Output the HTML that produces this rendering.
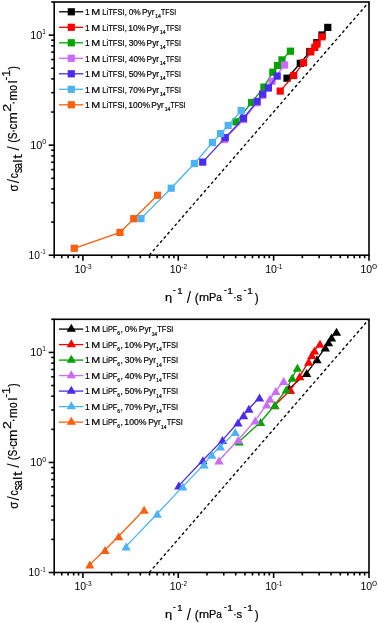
<!DOCTYPE html><html><head><meta charset="utf-8"><style>html,body{margin:0;padding:0;background:#fff;}svg{display:block;}</style></head><body><svg width="378" height="623" viewBox="0 0 378 623" font-family="'Liberation Sans', sans-serif">
<rect width="378" height="623" fill="#fff"/>
<rect x="54.20" y="2.00" width="314.80" height="253.20" fill="none" stroke="#000" stroke-width="1.6"/>
<line x1="54.20" y1="255.20" x2="54.20" y2="258.20" stroke="#000" stroke-width="1.6"/>
<line x1="61.75" y1="255.20" x2="61.75" y2="258.20" stroke="#000" stroke-width="1.6"/>
<line x1="68.14" y1="255.20" x2="68.14" y2="258.20" stroke="#000" stroke-width="1.6"/>
<line x1="73.67" y1="255.20" x2="73.67" y2="258.20" stroke="#000" stroke-width="1.6"/>
<line x1="78.54" y1="255.20" x2="78.54" y2="258.20" stroke="#000" stroke-width="1.6"/>
<line x1="82.91" y1="255.20" x2="82.91" y2="260.70" stroke="#000" stroke-width="1.6"/>
<line x1="111.61" y1="255.20" x2="111.61" y2="258.20" stroke="#000" stroke-width="1.6"/>
<line x1="128.41" y1="255.20" x2="128.41" y2="258.20" stroke="#000" stroke-width="1.6"/>
<line x1="140.32" y1="255.20" x2="140.32" y2="258.20" stroke="#000" stroke-width="1.6"/>
<line x1="149.56" y1="255.20" x2="149.56" y2="258.20" stroke="#000" stroke-width="1.6"/>
<line x1="157.12" y1="255.20" x2="157.12" y2="258.20" stroke="#000" stroke-width="1.6"/>
<line x1="163.50" y1="255.20" x2="163.50" y2="258.20" stroke="#000" stroke-width="1.6"/>
<line x1="169.03" y1="255.20" x2="169.03" y2="258.20" stroke="#000" stroke-width="1.6"/>
<line x1="173.91" y1="255.20" x2="173.91" y2="258.20" stroke="#000" stroke-width="1.6"/>
<line x1="178.27" y1="255.20" x2="178.27" y2="260.70" stroke="#000" stroke-width="1.6"/>
<line x1="206.98" y1="255.20" x2="206.98" y2="258.20" stroke="#000" stroke-width="1.6"/>
<line x1="223.77" y1="255.20" x2="223.77" y2="258.20" stroke="#000" stroke-width="1.6"/>
<line x1="235.69" y1="255.20" x2="235.69" y2="258.20" stroke="#000" stroke-width="1.6"/>
<line x1="244.93" y1="255.20" x2="244.93" y2="258.20" stroke="#000" stroke-width="1.6"/>
<line x1="252.48" y1="255.20" x2="252.48" y2="258.20" stroke="#000" stroke-width="1.6"/>
<line x1="258.86" y1="255.20" x2="258.86" y2="258.20" stroke="#000" stroke-width="1.6"/>
<line x1="264.39" y1="255.20" x2="264.39" y2="258.20" stroke="#000" stroke-width="1.6"/>
<line x1="269.27" y1="255.20" x2="269.27" y2="258.20" stroke="#000" stroke-width="1.6"/>
<line x1="273.64" y1="255.20" x2="273.64" y2="260.70" stroke="#000" stroke-width="1.6"/>
<line x1="302.34" y1="255.20" x2="302.34" y2="258.20" stroke="#000" stroke-width="1.6"/>
<line x1="319.14" y1="255.20" x2="319.14" y2="258.20" stroke="#000" stroke-width="1.6"/>
<line x1="331.05" y1="255.20" x2="331.05" y2="258.20" stroke="#000" stroke-width="1.6"/>
<line x1="340.29" y1="255.20" x2="340.29" y2="258.20" stroke="#000" stroke-width="1.6"/>
<line x1="347.84" y1="255.20" x2="347.84" y2="258.20" stroke="#000" stroke-width="1.6"/>
<line x1="354.23" y1="255.20" x2="354.23" y2="258.20" stroke="#000" stroke-width="1.6"/>
<line x1="359.76" y1="255.20" x2="359.76" y2="258.20" stroke="#000" stroke-width="1.6"/>
<line x1="364.64" y1="255.20" x2="364.64" y2="258.20" stroke="#000" stroke-width="1.6"/>
<line x1="369.00" y1="255.20" x2="369.00" y2="260.70" stroke="#000" stroke-width="1.6"/>
<line x1="48.70" y1="255.20" x2="54.20" y2="255.20" stroke="#000" stroke-width="1.6"/>
<line x1="51.20" y1="222.08" x2="54.20" y2="222.08" stroke="#000" stroke-width="1.6"/>
<line x1="51.20" y1="202.70" x2="54.20" y2="202.70" stroke="#000" stroke-width="1.6"/>
<line x1="51.20" y1="188.95" x2="54.20" y2="188.95" stroke="#000" stroke-width="1.6"/>
<line x1="51.20" y1="178.29" x2="54.20" y2="178.29" stroke="#000" stroke-width="1.6"/>
<line x1="51.20" y1="169.57" x2="54.20" y2="169.57" stroke="#000" stroke-width="1.6"/>
<line x1="51.20" y1="162.21" x2="54.20" y2="162.21" stroke="#000" stroke-width="1.6"/>
<line x1="51.20" y1="155.83" x2="54.20" y2="155.83" stroke="#000" stroke-width="1.6"/>
<line x1="51.20" y1="150.20" x2="54.20" y2="150.20" stroke="#000" stroke-width="1.6"/>
<line x1="48.70" y1="145.16" x2="54.20" y2="145.16" stroke="#000" stroke-width="1.6"/>
<line x1="51.20" y1="112.04" x2="54.20" y2="112.04" stroke="#000" stroke-width="1.6"/>
<line x1="51.20" y1="92.66" x2="54.20" y2="92.66" stroke="#000" stroke-width="1.6"/>
<line x1="51.20" y1="78.91" x2="54.20" y2="78.91" stroke="#000" stroke-width="1.6"/>
<line x1="51.20" y1="68.25" x2="54.20" y2="68.25" stroke="#000" stroke-width="1.6"/>
<line x1="51.20" y1="59.54" x2="54.20" y2="59.54" stroke="#000" stroke-width="1.6"/>
<line x1="51.20" y1="52.17" x2="54.20" y2="52.17" stroke="#000" stroke-width="1.6"/>
<line x1="51.20" y1="45.79" x2="54.20" y2="45.79" stroke="#000" stroke-width="1.6"/>
<line x1="51.20" y1="40.16" x2="54.20" y2="40.16" stroke="#000" stroke-width="1.6"/>
<line x1="48.70" y1="35.12" x2="54.20" y2="35.12" stroke="#000" stroke-width="1.6"/>
<line x1="51.20" y1="2.00" x2="54.20" y2="2.00" stroke="#000" stroke-width="1.6"/>
<text x="74.41" y="272.60" font-size="10.8" textLength="11.71" lengthAdjust="spacingAndGlyphs">10</text>
<text x="85.92" y="268.50" font-size="6.6" textLength="5.77" lengthAdjust="spacingAndGlyphs">-3</text>
<text x="169.77" y="272.60" font-size="10.8" textLength="11.71" lengthAdjust="spacingAndGlyphs">10</text>
<text x="181.28" y="268.50" font-size="6.6" textLength="5.82" lengthAdjust="spacingAndGlyphs">-2</text>
<text x="265.13" y="272.60" font-size="10.8" textLength="11.71" lengthAdjust="spacingAndGlyphs">10</text>
<text x="276.65" y="268.50" font-size="6.6" textLength="5.81" lengthAdjust="spacingAndGlyphs">-1</text>
<text x="360.50" y="272.60" font-size="10.8" textLength="11.71" lengthAdjust="spacingAndGlyphs">10</text>
<text x="371.94" y="268.50" font-size="6.6" textLength="5.12" lengthAdjust="spacingAndGlyphs">0</text>
<text x="30.17" y="38.57" font-size="10.8" textLength="12.05" lengthAdjust="spacingAndGlyphs">10</text>
<text x="42.27" y="34.17" font-size="6.6" textLength="3.67" lengthAdjust="spacingAndGlyphs">1</text>
<text x="30.17" y="148.61" font-size="10.8" textLength="12.05" lengthAdjust="spacingAndGlyphs">10</text>
<text x="42.22" y="144.21" font-size="6.6" textLength="3.96" lengthAdjust="spacingAndGlyphs">0</text>
<text x="28.52" y="258.65" font-size="10.8" textLength="11.38" lengthAdjust="spacingAndGlyphs">10</text>
<text x="40.55" y="254.25" font-size="6.6" textLength="4.92" lengthAdjust="spacingAndGlyphs">-1</text>
<line x1="369.00" y1="2.00" x2="149.30" y2="255.20" stroke="#000" stroke-width="1.35" stroke-dasharray="3.0,2.56" stroke-dashoffset="1.26"/>
<text x="164.94" y="301.00" font-size="11.6" textLength="7.09" lengthAdjust="spacingAndGlyphs" stroke="#000" stroke-width="0.22">η</text>
<text x="172.98" y="293.40" font-size="8.2" textLength="2.73" lengthAdjust="spacingAndGlyphs" stroke="#000" stroke-width="0.22">-</text>
<text x="177.38" y="294.20" font-size="8.2" textLength="5.29" lengthAdjust="spacingAndGlyphs" stroke="#000" stroke-width="0.22">1</text>
<text transform="translate(0,302.70) scale(1,1.3)" x="186.71" y="0" font-size="12.3" textLength="4.27" lengthAdjust="spacingAndGlyphs">/</text>
<text x="194.85" y="301.75" font-size="13.3" textLength="4.02" lengthAdjust="spacingAndGlyphs" stroke="#000" stroke-width="0.22">(</text>
<text x="198.99" y="301.00" font-size="11.6" textLength="10.11" lengthAdjust="spacingAndGlyphs" stroke="#000" stroke-width="0.22">m</text>
<text x="208.91" y="301.00" font-size="11.6" textLength="7.27" lengthAdjust="spacingAndGlyphs" stroke="#000" stroke-width="0.22">P</text>
<text x="216.37" y="301.00" font-size="11.6" textLength="5.63" lengthAdjust="spacingAndGlyphs" stroke="#000" stroke-width="0.22">a</text>
<text x="223.98" y="293.40" font-size="8.2" textLength="2.73" lengthAdjust="spacingAndGlyphs" stroke="#000" stroke-width="0.22">-</text>
<text x="227.22" y="294.20" font-size="8.2" textLength="5.68" lengthAdjust="spacingAndGlyphs" stroke="#000" stroke-width="0.22">1</text>
<text x="232.97" y="301.00" font-size="11.6" textLength="3.86" lengthAdjust="spacingAndGlyphs" stroke="#000" stroke-width="0.22">·</text>
<text x="236.49" y="301.00" font-size="11.6" textLength="5.62" lengthAdjust="spacingAndGlyphs" stroke="#000" stroke-width="0.22">s</text>
<text x="243.78" y="293.40" font-size="8.2" textLength="2.73" lengthAdjust="spacingAndGlyphs" stroke="#000" stroke-width="0.22">-</text>
<text x="247.24" y="294.20" font-size="8.2" textLength="5.55" lengthAdjust="spacingAndGlyphs" stroke="#000" stroke-width="0.22">1</text>
<text x="254.73" y="301.75" font-size="13.3" textLength="3.89" lengthAdjust="spacingAndGlyphs" stroke="#000" stroke-width="0.22">)</text>
<g transform="translate(17.40,200.00) rotate(-90)">
<text x="8.62" y="0.80" font-size="12.6" textLength="7.05" lengthAdjust="spacingAndGlyphs" stroke="#000" stroke-width="0.22">σ</text>
<text transform="translate(0,1.90) scale(1,1.25)" x="16.86" y="0" font-size="12.6" textLength="4.38" lengthAdjust="spacingAndGlyphs">/</text>
<text x="21.77" y="0.80" font-size="12.6" textLength="5.10" lengthAdjust="spacingAndGlyphs" stroke="#000" stroke-width="0.22">c</text>
<text x="27.07" y="4.40" font-size="12.6" textLength="5.04" lengthAdjust="spacingAndGlyphs" stroke="#000" stroke-width="0.22">s</text>
<text x="31.23" y="4.40" font-size="12.6" textLength="5.61" lengthAdjust="spacingAndGlyphs" stroke="#000" stroke-width="0.22">a</text>
<text x="37.45" y="4.40" font-size="12.6" textLength="2.80" lengthAdjust="spacingAndGlyphs" stroke="#000" stroke-width="0.22">l</text>
<text x="41.20" y="4.40" font-size="12.6" textLength="4.38" lengthAdjust="spacingAndGlyphs" stroke="#000" stroke-width="0.22">t</text>
<text transform="translate(0,1.50) scale(1,1.25)" x="49.51" y="0" font-size="12.6" textLength="4.38" lengthAdjust="spacingAndGlyphs">/</text>
<text x="57.17" y="-0.30" font-size="12.8" textLength="3.89" lengthAdjust="spacingAndGlyphs" stroke="#000" stroke-width="0.22">(</text>
<text x="60.84" y="0.00" font-size="12.6" textLength="6.72" lengthAdjust="spacingAndGlyphs" stroke="#000" stroke-width="0.22">S</text>
<text x="67.11" y="0.00" font-size="12.6" textLength="4.20" lengthAdjust="spacingAndGlyphs" stroke="#000" stroke-width="0.22">·</text>
<text x="70.50" y="0.00" font-size="12.6" textLength="5.91" lengthAdjust="spacingAndGlyphs" stroke="#000" stroke-width="0.22">c</text>
<text x="76.40" y="0.00" font-size="12.6" textLength="11.29" lengthAdjust="spacingAndGlyphs" stroke="#000" stroke-width="0.22">m</text>
<text x="88.28" y="-6.90" font-size="11.5" textLength="7.94" lengthAdjust="spacingAndGlyphs" stroke="#000" stroke-width="0.22">2</text>
<text x="94.91" y="0.00" font-size="12.6" textLength="4.20" lengthAdjust="spacingAndGlyphs" stroke="#000" stroke-width="0.22">·</text>
<text x="99.42" y="0.00" font-size="12.6" textLength="9.75" lengthAdjust="spacingAndGlyphs" stroke="#000" stroke-width="0.22">m</text>
<text x="109.27" y="0.00" font-size="12.6" textLength="5.65" lengthAdjust="spacingAndGlyphs" stroke="#000" stroke-width="0.22">o</text>
<text x="116.70" y="0.00" font-size="12.6" textLength="2.80" lengthAdjust="spacingAndGlyphs" stroke="#000" stroke-width="0.22">l</text>
<text x="119.59" y="-8.80" font-size="11.5" textLength="3.83" lengthAdjust="spacingAndGlyphs" stroke="#000" stroke-width="0.22">-</text>
<text x="123.35" y="-7.80" font-size="11.5" textLength="6.97" lengthAdjust="spacingAndGlyphs" stroke="#000" stroke-width="0.22">1</text>
<text x="130.58" y="-0.30" font-size="12.8" textLength="3.41" lengthAdjust="spacingAndGlyphs" stroke="#000" stroke-width="0.22">)</text>
</g>
<polyline points="287.00,78.20 300.30,63.30 309.80,51.50 316.80,42.70 322.00,35.00 327.80,27.40" fill="none" stroke="#000000" stroke-width="1.3"/>
<rect x="283.40" y="74.60" width="7.2" height="7.2" fill="#000000"/>
<rect x="296.70" y="59.70" width="7.2" height="7.2" fill="#000000"/>
<rect x="306.20" y="47.90" width="7.2" height="7.2" fill="#000000"/>
<rect x="313.20" y="39.10" width="7.2" height="7.2" fill="#000000"/>
<rect x="318.40" y="31.40" width="7.2" height="7.2" fill="#000000"/>
<rect x="324.20" y="23.80" width="7.2" height="7.2" fill="#000000"/>
<polyline points="280.20,91.10 293.70,75.50 303.60,62.80 310.80,51.80 314.80,47.40 316.80,44.10 322.00,36.80" fill="none" stroke="#FF0000" stroke-width="1.3"/>
<rect x="276.60" y="87.50" width="7.2" height="7.2" fill="#FF0000"/>
<rect x="290.10" y="71.90" width="7.2" height="7.2" fill="#FF0000"/>
<rect x="300.00" y="59.20" width="7.2" height="7.2" fill="#FF0000"/>
<rect x="307.20" y="48.20" width="7.2" height="7.2" fill="#FF0000"/>
<rect x="311.20" y="43.80" width="7.2" height="7.2" fill="#FF0000"/>
<rect x="313.20" y="40.50" width="7.2" height="7.2" fill="#FF0000"/>
<rect x="318.40" y="33.20" width="7.2" height="7.2" fill="#FF0000"/>
<polyline points="236.00,121.80 251.60,102.50 263.90,87.10 272.80,72.20 277.50,65.50 282.00,59.90 290.40,51.20" fill="none" stroke="#00A300" stroke-width="1.3"/>
<rect x="232.40" y="118.20" width="7.2" height="7.2" fill="#00A300"/>
<rect x="248.00" y="98.90" width="7.2" height="7.2" fill="#00A300"/>
<rect x="260.30" y="83.50" width="7.2" height="7.2" fill="#00A300"/>
<rect x="269.20" y="68.60" width="7.2" height="7.2" fill="#00A300"/>
<rect x="273.90" y="61.90" width="7.2" height="7.2" fill="#00A300"/>
<rect x="278.40" y="56.30" width="7.2" height="7.2" fill="#00A300"/>
<rect x="286.80" y="47.60" width="7.2" height="7.2" fill="#00A300"/>
<polyline points="224.50,139.50 243.50,119.50 257.00,102.70 262.80,95.20 272.10,81.20 284.60,65.00" fill="none" stroke="#CC6BFA" stroke-width="1.3"/>
<rect x="220.90" y="135.90" width="7.2" height="7.2" fill="#CC6BFA"/>
<rect x="239.90" y="115.90" width="7.2" height="7.2" fill="#CC6BFA"/>
<rect x="253.40" y="99.10" width="7.2" height="7.2" fill="#CC6BFA"/>
<rect x="259.20" y="91.60" width="7.2" height="7.2" fill="#CC6BFA"/>
<rect x="268.50" y="77.60" width="7.2" height="7.2" fill="#CC6BFA"/>
<rect x="281.00" y="61.40" width="7.2" height="7.2" fill="#CC6BFA"/>
<polyline points="202.70,162.10 225.30,137.60 243.50,118.20 257.10,101.40 262.60,94.10 268.40,88.00 277.20,76.10" fill="none" stroke="#4B2BF0" stroke-width="1.3"/>
<rect x="199.10" y="158.50" width="7.2" height="7.2" fill="#4B2BF0"/>
<rect x="221.70" y="134.00" width="7.2" height="7.2" fill="#4B2BF0"/>
<rect x="239.90" y="114.60" width="7.2" height="7.2" fill="#4B2BF0"/>
<rect x="253.50" y="97.80" width="7.2" height="7.2" fill="#4B2BF0"/>
<rect x="259.00" y="90.50" width="7.2" height="7.2" fill="#4B2BF0"/>
<rect x="264.80" y="84.40" width="7.2" height="7.2" fill="#4B2BF0"/>
<rect x="273.60" y="72.50" width="7.2" height="7.2" fill="#4B2BF0"/>
<polyline points="141.00,218.60 171.20,188.20 194.40,163.50 212.40,142.60 220.60,133.60 228.20,125.40 241.20,110.60" fill="none" stroke="#4DB3F5" stroke-width="1.3"/>
<rect x="137.40" y="215.00" width="7.2" height="7.2" fill="#4DB3F5"/>
<rect x="167.60" y="184.60" width="7.2" height="7.2" fill="#4DB3F5"/>
<rect x="190.80" y="159.90" width="7.2" height="7.2" fill="#4DB3F5"/>
<rect x="208.80" y="139.00" width="7.2" height="7.2" fill="#4DB3F5"/>
<rect x="217.00" y="130.00" width="7.2" height="7.2" fill="#4DB3F5"/>
<rect x="224.60" y="121.80" width="7.2" height="7.2" fill="#4DB3F5"/>
<rect x="237.60" y="107.00" width="7.2" height="7.2" fill="#4DB3F5"/>
<polyline points="74.30,248.30 120.00,232.40 133.80,218.70 157.50,195.30" fill="none" stroke="#FF5E0E" stroke-width="1.3"/>
<rect x="70.70" y="244.70" width="7.2" height="7.2" fill="#FF5E0E"/>
<rect x="116.40" y="228.80" width="7.2" height="7.2" fill="#FF5E0E"/>
<rect x="130.20" y="215.10" width="7.2" height="7.2" fill="#FF5E0E"/>
<rect x="153.90" y="191.70" width="7.2" height="7.2" fill="#FF5E0E"/>
<line x1="59" y1="11.80" x2="83.3" y2="11.80" stroke="#000000" stroke-width="1.3"/>
<rect x="67.70" y="8.20" width="7.2" height="7.2" fill="#000000"/>
<text x="84.96" y="15.00" font-size="8.6" textLength="4.64" lengthAdjust="spacingAndGlyphs" stroke="#000" stroke-width="0.18">1</text>
<text x="91.32" y="15.00" font-size="8.6" textLength="8.97" lengthAdjust="spacingAndGlyphs" stroke="#000" stroke-width="0.18">M</text>
<text x="102.28" y="15.00" font-size="8.6" textLength="24.51" lengthAdjust="spacingAndGlyphs" stroke="#000" stroke-width="0.18">LiTFSI,</text>
<text x="128.68" y="15.00" font-size="8.6" textLength="12.02" lengthAdjust="spacingAndGlyphs" stroke="#000" stroke-width="0.18">0%</text>
<text x="141.92" y="15.00" font-size="8.6" textLength="12.52" lengthAdjust="spacingAndGlyphs" stroke="#000" stroke-width="0.18">Pyr</text>
<text x="155.31" y="18.30" font-size="5.0" textLength="5.63" lengthAdjust="spacingAndGlyphs" stroke="#000" stroke-width="0.18">14</text>
<text x="161.04" y="15.00" font-size="8.6" textLength="15.10" lengthAdjust="spacingAndGlyphs" stroke="#000" stroke-width="0.18">TFSI</text>
<line x1="59" y1="27.30" x2="83.3" y2="27.30" stroke="#FF0000" stroke-width="1.3"/>
<rect x="67.70" y="23.70" width="7.2" height="7.2" fill="#FF0000"/>
<text x="84.96" y="30.50" font-size="8.6" textLength="4.64" lengthAdjust="spacingAndGlyphs" stroke="#000" stroke-width="0.18">1</text>
<text x="91.32" y="30.50" font-size="8.6" textLength="8.97" lengthAdjust="spacingAndGlyphs" stroke="#000" stroke-width="0.18">M</text>
<text x="102.28" y="30.50" font-size="8.6" textLength="24.51" lengthAdjust="spacingAndGlyphs" stroke="#000" stroke-width="0.18">LiTFSI,</text>
<text x="128.35" y="30.50" font-size="8.6" textLength="17.05" lengthAdjust="spacingAndGlyphs" stroke="#000" stroke-width="0.18">10%</text>
<text x="146.62" y="30.50" font-size="8.6" textLength="12.52" lengthAdjust="spacingAndGlyphs" stroke="#000" stroke-width="0.18">Pyr</text>
<text x="160.01" y="33.80" font-size="5.0" textLength="5.63" lengthAdjust="spacingAndGlyphs" stroke="#000" stroke-width="0.18">14</text>
<text x="165.74" y="30.50" font-size="8.6" textLength="15.10" lengthAdjust="spacingAndGlyphs" stroke="#000" stroke-width="0.18">TFSI</text>
<line x1="59" y1="42.80" x2="83.3" y2="42.80" stroke="#00A300" stroke-width="1.3"/>
<rect x="67.70" y="39.20" width="7.2" height="7.2" fill="#00A300"/>
<text x="84.96" y="46.00" font-size="8.6" textLength="4.64" lengthAdjust="spacingAndGlyphs" stroke="#000" stroke-width="0.18">1</text>
<text x="91.32" y="46.00" font-size="8.6" textLength="8.97" lengthAdjust="spacingAndGlyphs" stroke="#000" stroke-width="0.18">M</text>
<text x="102.28" y="46.00" font-size="8.6" textLength="24.51" lengthAdjust="spacingAndGlyphs" stroke="#000" stroke-width="0.18">LiTFSI,</text>
<text x="128.68" y="46.00" font-size="8.6" textLength="16.72" lengthAdjust="spacingAndGlyphs" stroke="#000" stroke-width="0.18">30%</text>
<text x="146.62" y="46.00" font-size="8.6" textLength="12.52" lengthAdjust="spacingAndGlyphs" stroke="#000" stroke-width="0.18">Pyr</text>
<text x="160.01" y="49.30" font-size="5.0" textLength="5.63" lengthAdjust="spacingAndGlyphs" stroke="#000" stroke-width="0.18">14</text>
<text x="165.74" y="46.00" font-size="8.6" textLength="15.10" lengthAdjust="spacingAndGlyphs" stroke="#000" stroke-width="0.18">TFSI</text>
<line x1="59" y1="58.30" x2="83.3" y2="58.30" stroke="#CC6BFA" stroke-width="1.3"/>
<rect x="67.70" y="54.70" width="7.2" height="7.2" fill="#CC6BFA"/>
<text x="84.96" y="61.50" font-size="8.6" textLength="4.64" lengthAdjust="spacingAndGlyphs" stroke="#000" stroke-width="0.18">1</text>
<text x="91.32" y="61.50" font-size="8.6" textLength="8.97" lengthAdjust="spacingAndGlyphs" stroke="#000" stroke-width="0.18">M</text>
<text x="102.28" y="61.50" font-size="8.6" textLength="24.51" lengthAdjust="spacingAndGlyphs" stroke="#000" stroke-width="0.18">LiTFSI,</text>
<text x="128.81" y="61.50" font-size="8.6" textLength="16.59" lengthAdjust="spacingAndGlyphs" stroke="#000" stroke-width="0.18">40%</text>
<text x="146.62" y="61.50" font-size="8.6" textLength="12.52" lengthAdjust="spacingAndGlyphs" stroke="#000" stroke-width="0.18">Pyr</text>
<text x="160.01" y="64.80" font-size="5.0" textLength="5.63" lengthAdjust="spacingAndGlyphs" stroke="#000" stroke-width="0.18">14</text>
<text x="165.74" y="61.50" font-size="8.6" textLength="15.10" lengthAdjust="spacingAndGlyphs" stroke="#000" stroke-width="0.18">TFSI</text>
<line x1="59" y1="73.80" x2="83.3" y2="73.80" stroke="#4B2BF0" stroke-width="1.3"/>
<rect x="67.70" y="70.20" width="7.2" height="7.2" fill="#4B2BF0"/>
<text x="84.96" y="77.00" font-size="8.6" textLength="4.64" lengthAdjust="spacingAndGlyphs" stroke="#000" stroke-width="0.18">1</text>
<text x="91.32" y="77.00" font-size="8.6" textLength="8.97" lengthAdjust="spacingAndGlyphs" stroke="#000" stroke-width="0.18">M</text>
<text x="102.28" y="77.00" font-size="8.6" textLength="24.51" lengthAdjust="spacingAndGlyphs" stroke="#000" stroke-width="0.18">LiTFSI,</text>
<text x="128.67" y="77.00" font-size="8.6" textLength="16.73" lengthAdjust="spacingAndGlyphs" stroke="#000" stroke-width="0.18">50%</text>
<text x="146.62" y="77.00" font-size="8.6" textLength="12.52" lengthAdjust="spacingAndGlyphs" stroke="#000" stroke-width="0.18">Pyr</text>
<text x="160.01" y="80.30" font-size="5.0" textLength="5.63" lengthAdjust="spacingAndGlyphs" stroke="#000" stroke-width="0.18">14</text>
<text x="165.74" y="77.00" font-size="8.6" textLength="15.10" lengthAdjust="spacingAndGlyphs" stroke="#000" stroke-width="0.18">TFSI</text>
<line x1="59" y1="89.30" x2="83.3" y2="89.30" stroke="#4DB3F5" stroke-width="1.3"/>
<rect x="67.70" y="85.70" width="7.2" height="7.2" fill="#4DB3F5"/>
<text x="84.96" y="92.50" font-size="8.6" textLength="4.64" lengthAdjust="spacingAndGlyphs" stroke="#000" stroke-width="0.18">1</text>
<text x="91.32" y="92.50" font-size="8.6" textLength="8.97" lengthAdjust="spacingAndGlyphs" stroke="#000" stroke-width="0.18">M</text>
<text x="102.28" y="92.50" font-size="8.6" textLength="24.51" lengthAdjust="spacingAndGlyphs" stroke="#000" stroke-width="0.18">LiTFSI,</text>
<text x="128.57" y="92.50" font-size="8.6" textLength="16.83" lengthAdjust="spacingAndGlyphs" stroke="#000" stroke-width="0.18">70%</text>
<text x="146.62" y="92.50" font-size="8.6" textLength="12.52" lengthAdjust="spacingAndGlyphs" stroke="#000" stroke-width="0.18">Pyr</text>
<text x="160.01" y="95.80" font-size="5.0" textLength="5.63" lengthAdjust="spacingAndGlyphs" stroke="#000" stroke-width="0.18">14</text>
<text x="165.74" y="92.50" font-size="8.6" textLength="15.10" lengthAdjust="spacingAndGlyphs" stroke="#000" stroke-width="0.18">TFSI</text>
<line x1="59" y1="104.80" x2="83.3" y2="104.80" stroke="#FF5E0E" stroke-width="1.3"/>
<rect x="67.70" y="101.20" width="7.2" height="7.2" fill="#FF5E0E"/>
<text x="84.96" y="108.00" font-size="8.6" textLength="4.64" lengthAdjust="spacingAndGlyphs" stroke="#000" stroke-width="0.18">1</text>
<text x="91.32" y="108.00" font-size="8.6" textLength="8.97" lengthAdjust="spacingAndGlyphs" stroke="#000" stroke-width="0.18">M</text>
<text x="102.28" y="108.00" font-size="8.6" textLength="24.51" lengthAdjust="spacingAndGlyphs" stroke="#000" stroke-width="0.18">LiTFSI,</text>
<text x="128.35" y="108.00" font-size="8.6" textLength="21.75" lengthAdjust="spacingAndGlyphs" stroke="#000" stroke-width="0.18">100%</text>
<text x="151.32" y="108.00" font-size="8.6" textLength="12.52" lengthAdjust="spacingAndGlyphs" stroke="#000" stroke-width="0.18">Pyr</text>
<text x="164.71" y="111.30" font-size="5.0" textLength="5.63" lengthAdjust="spacingAndGlyphs" stroke="#000" stroke-width="0.18">14</text>
<text x="170.44" y="108.00" font-size="8.6" textLength="15.10" lengthAdjust="spacingAndGlyphs" stroke="#000" stroke-width="0.18">TFSI</text>
<rect x="54.20" y="319.30" width="314.80" height="253.20" fill="none" stroke="#000" stroke-width="1.6"/>
<line x1="54.20" y1="572.50" x2="54.20" y2="575.50" stroke="#000" stroke-width="1.6"/>
<line x1="61.75" y1="572.50" x2="61.75" y2="575.50" stroke="#000" stroke-width="1.6"/>
<line x1="68.14" y1="572.50" x2="68.14" y2="575.50" stroke="#000" stroke-width="1.6"/>
<line x1="73.67" y1="572.50" x2="73.67" y2="575.50" stroke="#000" stroke-width="1.6"/>
<line x1="78.54" y1="572.50" x2="78.54" y2="575.50" stroke="#000" stroke-width="1.6"/>
<line x1="82.91" y1="572.50" x2="82.91" y2="578.00" stroke="#000" stroke-width="1.6"/>
<line x1="111.61" y1="572.50" x2="111.61" y2="575.50" stroke="#000" stroke-width="1.6"/>
<line x1="128.41" y1="572.50" x2="128.41" y2="575.50" stroke="#000" stroke-width="1.6"/>
<line x1="140.32" y1="572.50" x2="140.32" y2="575.50" stroke="#000" stroke-width="1.6"/>
<line x1="149.56" y1="572.50" x2="149.56" y2="575.50" stroke="#000" stroke-width="1.6"/>
<line x1="157.12" y1="572.50" x2="157.12" y2="575.50" stroke="#000" stroke-width="1.6"/>
<line x1="163.50" y1="572.50" x2="163.50" y2="575.50" stroke="#000" stroke-width="1.6"/>
<line x1="169.03" y1="572.50" x2="169.03" y2="575.50" stroke="#000" stroke-width="1.6"/>
<line x1="173.91" y1="572.50" x2="173.91" y2="575.50" stroke="#000" stroke-width="1.6"/>
<line x1="178.27" y1="572.50" x2="178.27" y2="578.00" stroke="#000" stroke-width="1.6"/>
<line x1="206.98" y1="572.50" x2="206.98" y2="575.50" stroke="#000" stroke-width="1.6"/>
<line x1="223.77" y1="572.50" x2="223.77" y2="575.50" stroke="#000" stroke-width="1.6"/>
<line x1="235.69" y1="572.50" x2="235.69" y2="575.50" stroke="#000" stroke-width="1.6"/>
<line x1="244.93" y1="572.50" x2="244.93" y2="575.50" stroke="#000" stroke-width="1.6"/>
<line x1="252.48" y1="572.50" x2="252.48" y2="575.50" stroke="#000" stroke-width="1.6"/>
<line x1="258.86" y1="572.50" x2="258.86" y2="575.50" stroke="#000" stroke-width="1.6"/>
<line x1="264.39" y1="572.50" x2="264.39" y2="575.50" stroke="#000" stroke-width="1.6"/>
<line x1="269.27" y1="572.50" x2="269.27" y2="575.50" stroke="#000" stroke-width="1.6"/>
<line x1="273.64" y1="572.50" x2="273.64" y2="578.00" stroke="#000" stroke-width="1.6"/>
<line x1="302.34" y1="572.50" x2="302.34" y2="575.50" stroke="#000" stroke-width="1.6"/>
<line x1="319.14" y1="572.50" x2="319.14" y2="575.50" stroke="#000" stroke-width="1.6"/>
<line x1="331.05" y1="572.50" x2="331.05" y2="575.50" stroke="#000" stroke-width="1.6"/>
<line x1="340.29" y1="572.50" x2="340.29" y2="575.50" stroke="#000" stroke-width="1.6"/>
<line x1="347.84" y1="572.50" x2="347.84" y2="575.50" stroke="#000" stroke-width="1.6"/>
<line x1="354.23" y1="572.50" x2="354.23" y2="575.50" stroke="#000" stroke-width="1.6"/>
<line x1="359.76" y1="572.50" x2="359.76" y2="575.50" stroke="#000" stroke-width="1.6"/>
<line x1="364.64" y1="572.50" x2="364.64" y2="575.50" stroke="#000" stroke-width="1.6"/>
<line x1="369.00" y1="572.50" x2="369.00" y2="578.00" stroke="#000" stroke-width="1.6"/>
<line x1="48.70" y1="572.50" x2="54.20" y2="572.50" stroke="#000" stroke-width="1.6"/>
<line x1="51.20" y1="539.38" x2="54.20" y2="539.38" stroke="#000" stroke-width="1.6"/>
<line x1="51.20" y1="520.00" x2="54.20" y2="520.00" stroke="#000" stroke-width="1.6"/>
<line x1="51.20" y1="506.25" x2="54.20" y2="506.25" stroke="#000" stroke-width="1.6"/>
<line x1="51.20" y1="495.59" x2="54.20" y2="495.59" stroke="#000" stroke-width="1.6"/>
<line x1="51.20" y1="486.87" x2="54.20" y2="486.87" stroke="#000" stroke-width="1.6"/>
<line x1="51.20" y1="479.51" x2="54.20" y2="479.51" stroke="#000" stroke-width="1.6"/>
<line x1="51.20" y1="473.13" x2="54.20" y2="473.13" stroke="#000" stroke-width="1.6"/>
<line x1="51.20" y1="467.50" x2="54.20" y2="467.50" stroke="#000" stroke-width="1.6"/>
<line x1="48.70" y1="462.46" x2="54.20" y2="462.46" stroke="#000" stroke-width="1.6"/>
<line x1="51.20" y1="429.34" x2="54.20" y2="429.34" stroke="#000" stroke-width="1.6"/>
<line x1="51.20" y1="409.96" x2="54.20" y2="409.96" stroke="#000" stroke-width="1.6"/>
<line x1="51.20" y1="396.21" x2="54.20" y2="396.21" stroke="#000" stroke-width="1.6"/>
<line x1="51.20" y1="385.55" x2="54.20" y2="385.55" stroke="#000" stroke-width="1.6"/>
<line x1="51.20" y1="376.84" x2="54.20" y2="376.84" stroke="#000" stroke-width="1.6"/>
<line x1="51.20" y1="369.47" x2="54.20" y2="369.47" stroke="#000" stroke-width="1.6"/>
<line x1="51.20" y1="363.09" x2="54.20" y2="363.09" stroke="#000" stroke-width="1.6"/>
<line x1="51.20" y1="357.46" x2="54.20" y2="357.46" stroke="#000" stroke-width="1.6"/>
<line x1="48.70" y1="352.42" x2="54.20" y2="352.42" stroke="#000" stroke-width="1.6"/>
<line x1="51.20" y1="319.30" x2="54.20" y2="319.30" stroke="#000" stroke-width="1.6"/>
<text x="74.41" y="589.90" font-size="10.8" textLength="11.71" lengthAdjust="spacingAndGlyphs">10</text>
<text x="85.92" y="585.80" font-size="6.6" textLength="5.77" lengthAdjust="spacingAndGlyphs">-3</text>
<text x="169.77" y="589.90" font-size="10.8" textLength="11.71" lengthAdjust="spacingAndGlyphs">10</text>
<text x="181.28" y="585.80" font-size="6.6" textLength="5.82" lengthAdjust="spacingAndGlyphs">-2</text>
<text x="265.13" y="589.90" font-size="10.8" textLength="11.71" lengthAdjust="spacingAndGlyphs">10</text>
<text x="276.65" y="585.80" font-size="6.6" textLength="5.81" lengthAdjust="spacingAndGlyphs">-1</text>
<text x="360.50" y="589.90" font-size="10.8" textLength="11.71" lengthAdjust="spacingAndGlyphs">10</text>
<text x="371.94" y="585.80" font-size="6.6" textLength="5.12" lengthAdjust="spacingAndGlyphs">0</text>
<text x="30.17" y="355.87" font-size="10.8" textLength="12.05" lengthAdjust="spacingAndGlyphs">10</text>
<text x="42.27" y="351.47" font-size="6.6" textLength="3.67" lengthAdjust="spacingAndGlyphs">1</text>
<text x="30.17" y="465.91" font-size="10.8" textLength="12.05" lengthAdjust="spacingAndGlyphs">10</text>
<text x="42.22" y="461.51" font-size="6.6" textLength="3.96" lengthAdjust="spacingAndGlyphs">0</text>
<text x="28.52" y="575.95" font-size="10.8" textLength="11.38" lengthAdjust="spacingAndGlyphs">10</text>
<text x="40.55" y="571.55" font-size="6.6" textLength="4.92" lengthAdjust="spacingAndGlyphs">-1</text>
<line x1="369.00" y1="319.30" x2="149.30" y2="572.50" stroke="#000" stroke-width="1.35" stroke-dasharray="3.0,2.56" stroke-dashoffset="1.26"/>
<text x="164.94" y="617.80" font-size="11.6" textLength="7.09" lengthAdjust="spacingAndGlyphs" stroke="#000" stroke-width="0.22">η</text>
<text x="172.98" y="610.20" font-size="8.2" textLength="2.73" lengthAdjust="spacingAndGlyphs" stroke="#000" stroke-width="0.22">-</text>
<text x="177.38" y="611.00" font-size="8.2" textLength="5.29" lengthAdjust="spacingAndGlyphs" stroke="#000" stroke-width="0.22">1</text>
<text transform="translate(0,619.50) scale(1,1.3)" x="186.71" y="0" font-size="12.3" textLength="4.27" lengthAdjust="spacingAndGlyphs">/</text>
<text x="194.85" y="618.55" font-size="13.3" textLength="4.02" lengthAdjust="spacingAndGlyphs" stroke="#000" stroke-width="0.22">(</text>
<text x="198.99" y="617.80" font-size="11.6" textLength="10.11" lengthAdjust="spacingAndGlyphs" stroke="#000" stroke-width="0.22">m</text>
<text x="208.91" y="617.80" font-size="11.6" textLength="7.27" lengthAdjust="spacingAndGlyphs" stroke="#000" stroke-width="0.22">P</text>
<text x="216.37" y="617.80" font-size="11.6" textLength="5.63" lengthAdjust="spacingAndGlyphs" stroke="#000" stroke-width="0.22">a</text>
<text x="223.98" y="610.20" font-size="8.2" textLength="2.73" lengthAdjust="spacingAndGlyphs" stroke="#000" stroke-width="0.22">-</text>
<text x="227.22" y="611.00" font-size="8.2" textLength="5.68" lengthAdjust="spacingAndGlyphs" stroke="#000" stroke-width="0.22">1</text>
<text x="232.97" y="617.80" font-size="11.6" textLength="3.86" lengthAdjust="spacingAndGlyphs" stroke="#000" stroke-width="0.22">·</text>
<text x="236.49" y="617.80" font-size="11.6" textLength="5.62" lengthAdjust="spacingAndGlyphs" stroke="#000" stroke-width="0.22">s</text>
<text x="243.78" y="610.20" font-size="8.2" textLength="2.73" lengthAdjust="spacingAndGlyphs" stroke="#000" stroke-width="0.22">-</text>
<text x="247.24" y="611.00" font-size="8.2" textLength="5.55" lengthAdjust="spacingAndGlyphs" stroke="#000" stroke-width="0.22">1</text>
<text x="254.73" y="618.55" font-size="13.3" textLength="3.89" lengthAdjust="spacingAndGlyphs" stroke="#000" stroke-width="0.22">)</text>
<g transform="translate(17.40,517.30) rotate(-90)">
<text x="8.62" y="0.80" font-size="12.6" textLength="7.05" lengthAdjust="spacingAndGlyphs" stroke="#000" stroke-width="0.22">σ</text>
<text transform="translate(0,1.90) scale(1,1.25)" x="16.86" y="0" font-size="12.6" textLength="4.38" lengthAdjust="spacingAndGlyphs">/</text>
<text x="21.77" y="0.80" font-size="12.6" textLength="5.10" lengthAdjust="spacingAndGlyphs" stroke="#000" stroke-width="0.22">c</text>
<text x="27.07" y="4.40" font-size="12.6" textLength="5.04" lengthAdjust="spacingAndGlyphs" stroke="#000" stroke-width="0.22">s</text>
<text x="31.23" y="4.40" font-size="12.6" textLength="5.61" lengthAdjust="spacingAndGlyphs" stroke="#000" stroke-width="0.22">a</text>
<text x="37.45" y="4.40" font-size="12.6" textLength="2.80" lengthAdjust="spacingAndGlyphs" stroke="#000" stroke-width="0.22">l</text>
<text x="41.20" y="4.40" font-size="12.6" textLength="4.38" lengthAdjust="spacingAndGlyphs" stroke="#000" stroke-width="0.22">t</text>
<text transform="translate(0,1.50) scale(1,1.25)" x="49.51" y="0" font-size="12.6" textLength="4.38" lengthAdjust="spacingAndGlyphs">/</text>
<text x="57.17" y="-0.30" font-size="12.8" textLength="3.89" lengthAdjust="spacingAndGlyphs" stroke="#000" stroke-width="0.22">(</text>
<text x="60.84" y="0.00" font-size="12.6" textLength="6.72" lengthAdjust="spacingAndGlyphs" stroke="#000" stroke-width="0.22">S</text>
<text x="67.11" y="0.00" font-size="12.6" textLength="4.20" lengthAdjust="spacingAndGlyphs" stroke="#000" stroke-width="0.22">·</text>
<text x="70.50" y="0.00" font-size="12.6" textLength="5.91" lengthAdjust="spacingAndGlyphs" stroke="#000" stroke-width="0.22">c</text>
<text x="76.40" y="0.00" font-size="12.6" textLength="11.29" lengthAdjust="spacingAndGlyphs" stroke="#000" stroke-width="0.22">m</text>
<text x="88.28" y="-6.90" font-size="11.5" textLength="7.94" lengthAdjust="spacingAndGlyphs" stroke="#000" stroke-width="0.22">2</text>
<text x="94.91" y="0.00" font-size="12.6" textLength="4.20" lengthAdjust="spacingAndGlyphs" stroke="#000" stroke-width="0.22">·</text>
<text x="99.42" y="0.00" font-size="12.6" textLength="9.75" lengthAdjust="spacingAndGlyphs" stroke="#000" stroke-width="0.22">m</text>
<text x="109.27" y="0.00" font-size="12.6" textLength="5.65" lengthAdjust="spacingAndGlyphs" stroke="#000" stroke-width="0.22">o</text>
<text x="116.70" y="0.00" font-size="12.6" textLength="2.80" lengthAdjust="spacingAndGlyphs" stroke="#000" stroke-width="0.22">l</text>
<text x="119.59" y="-8.80" font-size="11.5" textLength="3.83" lengthAdjust="spacingAndGlyphs" stroke="#000" stroke-width="0.22">-</text>
<text x="123.35" y="-7.80" font-size="11.5" textLength="6.97" lengthAdjust="spacingAndGlyphs" stroke="#000" stroke-width="0.22">1</text>
<text x="130.58" y="-0.30" font-size="12.8" textLength="3.41" lengthAdjust="spacingAndGlyphs" stroke="#000" stroke-width="0.22">)</text>
</g>
<polyline points="289.50,388.50 306.70,373.10 317.00,359.30 325.30,347.40 328.50,342.20 331.50,337.60 336.50,331.80" fill="none" stroke="#000000" stroke-width="1.3"/>
<polygon points="289.50,384.50 294.15,392.50 284.85,392.50" fill="#000000"/>
<polygon points="306.70,369.10 311.35,377.10 302.05,377.10" fill="#000000"/>
<polygon points="317.00,355.30 321.65,363.30 312.35,363.30" fill="#000000"/>
<polygon points="325.30,343.40 329.95,351.40 320.65,351.40" fill="#000000"/>
<polygon points="328.50,338.20 333.15,346.20 323.85,346.20" fill="#000000"/>
<polygon points="331.50,333.60 336.15,341.60 326.85,341.60" fill="#000000"/>
<polygon points="336.50,327.80 341.15,335.80 331.85,335.80" fill="#000000"/>
<polyline points="274.80,405.30 290.50,390.00 299.70,376.30 308.60,361.70 311.80,354.90 314.50,350.50 320.00,343.80" fill="none" stroke="#FF0000" stroke-width="1.3"/>
<polygon points="274.80,401.30 279.45,409.30 270.15,409.30" fill="#FF0000"/>
<polygon points="290.50,386.00 295.15,394.00 285.85,394.00" fill="#FF0000"/>
<polygon points="299.70,372.30 304.35,380.30 295.05,380.30" fill="#FF0000"/>
<polygon points="308.60,357.70 313.25,365.70 303.95,365.70" fill="#FF0000"/>
<polygon points="311.80,350.90 316.45,358.90 307.15,358.90" fill="#FF0000"/>
<polygon points="314.50,346.50 319.15,354.50 309.85,354.50" fill="#FF0000"/>
<polygon points="320.00,339.80 324.65,347.80 315.35,347.80" fill="#FF0000"/>
<polyline points="239.20,441.50 260.60,422.00 274.80,405.00 286.30,389.50 292.20,377.70 297.40,367.80" fill="none" stroke="#00A300" stroke-width="1.3"/>
<polygon points="239.20,437.50 243.85,445.50 234.55,445.50" fill="#00A300"/>
<polygon points="260.60,418.00 265.25,426.00 255.95,426.00" fill="#00A300"/>
<polygon points="274.80,401.00 279.45,409.00 270.15,409.00" fill="#00A300"/>
<polygon points="286.30,385.50 290.95,393.50 281.65,393.50" fill="#00A300"/>
<polygon points="292.20,373.70 296.85,381.70 287.55,381.70" fill="#00A300"/>
<polygon points="297.40,363.80 302.05,371.80 292.75,371.80" fill="#00A300"/>
<polyline points="219.00,460.50 238.30,439.70 255.30,420.40 266.70,404.40 270.00,398.80 275.80,390.90 283.70,381.00" fill="none" stroke="#CC6BFA" stroke-width="1.3"/>
<polygon points="219.00,456.50 223.65,464.50 214.35,464.50" fill="#CC6BFA"/>
<polygon points="238.30,435.70 242.95,443.70 233.65,443.70" fill="#CC6BFA"/>
<polygon points="255.30,416.40 259.95,424.40 250.65,424.40" fill="#CC6BFA"/>
<polygon points="266.70,400.40 271.35,408.40 262.05,408.40" fill="#CC6BFA"/>
<polygon points="270.00,394.80 274.65,402.80 265.35,402.80" fill="#CC6BFA"/>
<polygon points="275.80,386.90 280.45,394.90 271.15,394.90" fill="#CC6BFA"/>
<polygon points="283.70,377.00 288.35,385.00 279.05,385.00" fill="#CC6BFA"/>
<polyline points="178.80,485.60 202.90,460.20 222.50,440.10 238.00,422.50 243.60,415.20 248.90,408.70 259.50,397.50" fill="none" stroke="#4B2BF0" stroke-width="1.3"/>
<polygon points="178.80,481.60 183.45,489.60 174.15,489.60" fill="#4B2BF0"/>
<polygon points="202.90,456.20 207.55,464.20 198.25,464.20" fill="#4B2BF0"/>
<polygon points="222.50,436.10 227.15,444.10 217.85,444.10" fill="#4B2BF0"/>
<polygon points="238.00,418.50 242.65,426.50 233.35,426.50" fill="#4B2BF0"/>
<polygon points="243.60,411.20 248.25,419.20 238.95,419.20" fill="#4B2BF0"/>
<polygon points="248.90,404.70 253.55,412.70 244.25,412.70" fill="#4B2BF0"/>
<polygon points="259.50,393.50 264.15,401.50 254.85,401.50" fill="#4B2BF0"/>
<polyline points="126.10,546.40 157.20,513.80 182.80,486.60 204.00,464.40 211.80,454.70 220.50,446.50 235.20,432.10" fill="none" stroke="#4DB3F5" stroke-width="1.3"/>
<polygon points="126.10,542.40 130.75,550.40 121.45,550.40" fill="#4DB3F5"/>
<polygon points="157.20,509.80 161.85,517.80 152.55,517.80" fill="#4DB3F5"/>
<polygon points="182.80,482.60 187.45,490.60 178.15,490.60" fill="#4DB3F5"/>
<polygon points="204.00,460.40 208.65,468.40 199.35,468.40" fill="#4DB3F5"/>
<polygon points="211.80,450.70 216.45,458.70 207.15,458.70" fill="#4DB3F5"/>
<polygon points="220.50,442.50 225.15,450.50 215.85,450.50" fill="#4DB3F5"/>
<polygon points="235.20,428.10 239.85,436.10 230.55,436.10" fill="#4DB3F5"/>
<polyline points="89.80,564.60 105.00,550.00 118.70,536.20 144.10,509.80" fill="none" stroke="#FF5E0E" stroke-width="1.3"/>
<polygon points="89.80,560.60 94.45,568.60 85.15,568.60" fill="#FF5E0E"/>
<polygon points="105.00,546.00 109.65,554.00 100.35,554.00" fill="#FF5E0E"/>
<polygon points="118.70,532.20 123.35,540.20 114.05,540.20" fill="#FF5E0E"/>
<polygon points="144.10,505.80 148.75,513.80 139.45,513.80" fill="#FF5E0E"/>
<line x1="59" y1="329.10" x2="83.3" y2="329.10" stroke="#000000" stroke-width="1.3"/>
<polygon points="71.30,323.77 75.95,331.77 66.65,331.77" fill="#000000"/>
<text x="84.96" y="332.30" font-size="8.6" textLength="4.64" lengthAdjust="spacingAndGlyphs" stroke="#000" stroke-width="0.18">1</text>
<text x="91.32" y="332.30" font-size="8.6" textLength="8.97" lengthAdjust="spacingAndGlyphs" stroke="#000" stroke-width="0.18">M</text>
<text x="102.19" y="332.30" font-size="8.6" textLength="15.20" lengthAdjust="spacingAndGlyphs" stroke="#000" stroke-width="0.18">LiPF</text>
<text x="117.24" y="335.10" font-size="5.0" textLength="2.78" lengthAdjust="spacingAndGlyphs" stroke="#000" stroke-width="0.18">6</text>
<text x="120.61" y="332.30" font-size="8.6" textLength="2.39" lengthAdjust="spacingAndGlyphs" stroke="#000" stroke-width="0.18">,</text>
<text x="124.66" y="332.30" font-size="8.6" textLength="12.55" lengthAdjust="spacingAndGlyphs" stroke="#000" stroke-width="0.18">0%</text>
<text x="138.82" y="332.30" font-size="8.6" textLength="12.52" lengthAdjust="spacingAndGlyphs" stroke="#000" stroke-width="0.18">Pyr</text>
<text x="151.63" y="335.60" font-size="5.0" textLength="5.41" lengthAdjust="spacingAndGlyphs" stroke="#000" stroke-width="0.18">14</text>
<text x="157.33" y="332.30" font-size="8.6" textLength="16.05" lengthAdjust="spacingAndGlyphs" stroke="#000" stroke-width="0.18">TFSI</text>
<line x1="59" y1="344.60" x2="83.3" y2="344.60" stroke="#FF0000" stroke-width="1.3"/>
<polygon points="71.30,339.27 75.95,347.27 66.65,347.27" fill="#FF0000"/>
<text x="84.96" y="347.80" font-size="8.6" textLength="4.64" lengthAdjust="spacingAndGlyphs" stroke="#000" stroke-width="0.18">1</text>
<text x="91.32" y="347.80" font-size="8.6" textLength="8.97" lengthAdjust="spacingAndGlyphs" stroke="#000" stroke-width="0.18">M</text>
<text x="102.19" y="347.80" font-size="8.6" textLength="15.20" lengthAdjust="spacingAndGlyphs" stroke="#000" stroke-width="0.18">LiPF</text>
<text x="117.24" y="350.60" font-size="5.0" textLength="2.78" lengthAdjust="spacingAndGlyphs" stroke="#000" stroke-width="0.18">6</text>
<text x="120.61" y="347.80" font-size="8.6" textLength="2.39" lengthAdjust="spacingAndGlyphs" stroke="#000" stroke-width="0.18">,</text>
<text x="124.33" y="347.80" font-size="8.6" textLength="17.58" lengthAdjust="spacingAndGlyphs" stroke="#000" stroke-width="0.18">10%</text>
<text x="143.52" y="347.80" font-size="8.6" textLength="12.52" lengthAdjust="spacingAndGlyphs" stroke="#000" stroke-width="0.18">Pyr</text>
<text x="156.33" y="351.10" font-size="5.0" textLength="5.41" lengthAdjust="spacingAndGlyphs" stroke="#000" stroke-width="0.18">14</text>
<text x="162.03" y="347.80" font-size="8.6" textLength="16.05" lengthAdjust="spacingAndGlyphs" stroke="#000" stroke-width="0.18">TFSI</text>
<line x1="59" y1="360.10" x2="83.3" y2="360.10" stroke="#00A300" stroke-width="1.3"/>
<polygon points="71.30,354.77 75.95,362.77 66.65,362.77" fill="#00A300"/>
<text x="84.96" y="363.30" font-size="8.6" textLength="4.64" lengthAdjust="spacingAndGlyphs" stroke="#000" stroke-width="0.18">1</text>
<text x="91.32" y="363.30" font-size="8.6" textLength="8.97" lengthAdjust="spacingAndGlyphs" stroke="#000" stroke-width="0.18">M</text>
<text x="102.19" y="363.30" font-size="8.6" textLength="15.20" lengthAdjust="spacingAndGlyphs" stroke="#000" stroke-width="0.18">LiPF</text>
<text x="117.24" y="366.10" font-size="5.0" textLength="2.78" lengthAdjust="spacingAndGlyphs" stroke="#000" stroke-width="0.18">6</text>
<text x="120.61" y="363.30" font-size="8.6" textLength="2.39" lengthAdjust="spacingAndGlyphs" stroke="#000" stroke-width="0.18">,</text>
<text x="124.67" y="363.30" font-size="8.6" textLength="17.23" lengthAdjust="spacingAndGlyphs" stroke="#000" stroke-width="0.18">30%</text>
<text x="143.52" y="363.30" font-size="8.6" textLength="12.52" lengthAdjust="spacingAndGlyphs" stroke="#000" stroke-width="0.18">Pyr</text>
<text x="156.33" y="366.60" font-size="5.0" textLength="5.41" lengthAdjust="spacingAndGlyphs" stroke="#000" stroke-width="0.18">14</text>
<text x="162.03" y="363.30" font-size="8.6" textLength="16.05" lengthAdjust="spacingAndGlyphs" stroke="#000" stroke-width="0.18">TFSI</text>
<line x1="59" y1="375.60" x2="83.3" y2="375.60" stroke="#CC6BFA" stroke-width="1.3"/>
<polygon points="71.30,370.27 75.95,378.27 66.65,378.27" fill="#CC6BFA"/>
<text x="84.96" y="378.80" font-size="8.6" textLength="4.64" lengthAdjust="spacingAndGlyphs" stroke="#000" stroke-width="0.18">1</text>
<text x="91.32" y="378.80" font-size="8.6" textLength="8.97" lengthAdjust="spacingAndGlyphs" stroke="#000" stroke-width="0.18">M</text>
<text x="102.19" y="378.80" font-size="8.6" textLength="15.20" lengthAdjust="spacingAndGlyphs" stroke="#000" stroke-width="0.18">LiPF</text>
<text x="117.24" y="381.60" font-size="5.0" textLength="2.78" lengthAdjust="spacingAndGlyphs" stroke="#000" stroke-width="0.18">6</text>
<text x="120.61" y="378.80" font-size="8.6" textLength="2.39" lengthAdjust="spacingAndGlyphs" stroke="#000" stroke-width="0.18">,</text>
<text x="124.80" y="378.80" font-size="8.6" textLength="17.10" lengthAdjust="spacingAndGlyphs" stroke="#000" stroke-width="0.18">40%</text>
<text x="143.52" y="378.80" font-size="8.6" textLength="12.52" lengthAdjust="spacingAndGlyphs" stroke="#000" stroke-width="0.18">Pyr</text>
<text x="156.33" y="382.10" font-size="5.0" textLength="5.41" lengthAdjust="spacingAndGlyphs" stroke="#000" stroke-width="0.18">14</text>
<text x="162.03" y="378.80" font-size="8.6" textLength="16.05" lengthAdjust="spacingAndGlyphs" stroke="#000" stroke-width="0.18">TFSI</text>
<line x1="59" y1="391.10" x2="83.3" y2="391.10" stroke="#4B2BF0" stroke-width="1.3"/>
<polygon points="71.30,385.77 75.95,393.77 66.65,393.77" fill="#4B2BF0"/>
<text x="84.96" y="394.30" font-size="8.6" textLength="4.64" lengthAdjust="spacingAndGlyphs" stroke="#000" stroke-width="0.18">1</text>
<text x="91.32" y="394.30" font-size="8.6" textLength="8.97" lengthAdjust="spacingAndGlyphs" stroke="#000" stroke-width="0.18">M</text>
<text x="102.19" y="394.30" font-size="8.6" textLength="15.20" lengthAdjust="spacingAndGlyphs" stroke="#000" stroke-width="0.18">LiPF</text>
<text x="117.24" y="397.10" font-size="5.0" textLength="2.78" lengthAdjust="spacingAndGlyphs" stroke="#000" stroke-width="0.18">6</text>
<text x="120.61" y="394.30" font-size="8.6" textLength="2.39" lengthAdjust="spacingAndGlyphs" stroke="#000" stroke-width="0.18">,</text>
<text x="124.65" y="394.30" font-size="8.6" textLength="17.25" lengthAdjust="spacingAndGlyphs" stroke="#000" stroke-width="0.18">50%</text>
<text x="143.52" y="394.30" font-size="8.6" textLength="12.52" lengthAdjust="spacingAndGlyphs" stroke="#000" stroke-width="0.18">Pyr</text>
<text x="156.33" y="397.60" font-size="5.0" textLength="5.41" lengthAdjust="spacingAndGlyphs" stroke="#000" stroke-width="0.18">14</text>
<text x="162.03" y="394.30" font-size="8.6" textLength="16.05" lengthAdjust="spacingAndGlyphs" stroke="#000" stroke-width="0.18">TFSI</text>
<line x1="59" y1="406.60" x2="83.3" y2="406.60" stroke="#4DB3F5" stroke-width="1.3"/>
<polygon points="71.30,401.27 75.95,409.27 66.65,409.27" fill="#4DB3F5"/>
<text x="84.96" y="409.80" font-size="8.6" textLength="4.64" lengthAdjust="spacingAndGlyphs" stroke="#000" stroke-width="0.18">1</text>
<text x="91.32" y="409.80" font-size="8.6" textLength="8.97" lengthAdjust="spacingAndGlyphs" stroke="#000" stroke-width="0.18">M</text>
<text x="102.19" y="409.80" font-size="8.6" textLength="15.20" lengthAdjust="spacingAndGlyphs" stroke="#000" stroke-width="0.18">LiPF</text>
<text x="117.24" y="412.60" font-size="5.0" textLength="2.78" lengthAdjust="spacingAndGlyphs" stroke="#000" stroke-width="0.18">6</text>
<text x="120.61" y="409.80" font-size="8.6" textLength="2.39" lengthAdjust="spacingAndGlyphs" stroke="#000" stroke-width="0.18">,</text>
<text x="124.56" y="409.80" font-size="8.6" textLength="17.35" lengthAdjust="spacingAndGlyphs" stroke="#000" stroke-width="0.18">70%</text>
<text x="143.52" y="409.80" font-size="8.6" textLength="12.52" lengthAdjust="spacingAndGlyphs" stroke="#000" stroke-width="0.18">Pyr</text>
<text x="156.33" y="413.10" font-size="5.0" textLength="5.41" lengthAdjust="spacingAndGlyphs" stroke="#000" stroke-width="0.18">14</text>
<text x="162.03" y="409.80" font-size="8.6" textLength="16.05" lengthAdjust="spacingAndGlyphs" stroke="#000" stroke-width="0.18">TFSI</text>
<line x1="59" y1="422.10" x2="83.3" y2="422.10" stroke="#FF5E0E" stroke-width="1.3"/>
<polygon points="71.30,416.77 75.95,424.77 66.65,424.77" fill="#FF5E0E"/>
<text x="84.96" y="425.30" font-size="8.6" textLength="4.64" lengthAdjust="spacingAndGlyphs" stroke="#000" stroke-width="0.18">1</text>
<text x="91.32" y="425.30" font-size="8.6" textLength="8.97" lengthAdjust="spacingAndGlyphs" stroke="#000" stroke-width="0.18">M</text>
<text x="102.19" y="425.30" font-size="8.6" textLength="15.20" lengthAdjust="spacingAndGlyphs" stroke="#000" stroke-width="0.18">LiPF</text>
<text x="117.24" y="428.10" font-size="5.0" textLength="2.78" lengthAdjust="spacingAndGlyphs" stroke="#000" stroke-width="0.18">6</text>
<text x="120.61" y="425.30" font-size="8.6" textLength="2.39" lengthAdjust="spacingAndGlyphs" stroke="#000" stroke-width="0.18">,</text>
<text x="124.34" y="425.30" font-size="8.6" textLength="22.27" lengthAdjust="spacingAndGlyphs" stroke="#000" stroke-width="0.18">100%</text>
<text x="148.22" y="425.30" font-size="8.6" textLength="12.52" lengthAdjust="spacingAndGlyphs" stroke="#000" stroke-width="0.18">Pyr</text>
<text x="161.03" y="428.60" font-size="5.0" textLength="5.41" lengthAdjust="spacingAndGlyphs" stroke="#000" stroke-width="0.18">14</text>
<text x="166.73" y="425.30" font-size="8.6" textLength="16.05" lengthAdjust="spacingAndGlyphs" stroke="#000" stroke-width="0.18">TFSI</text>
</svg></body></html>
